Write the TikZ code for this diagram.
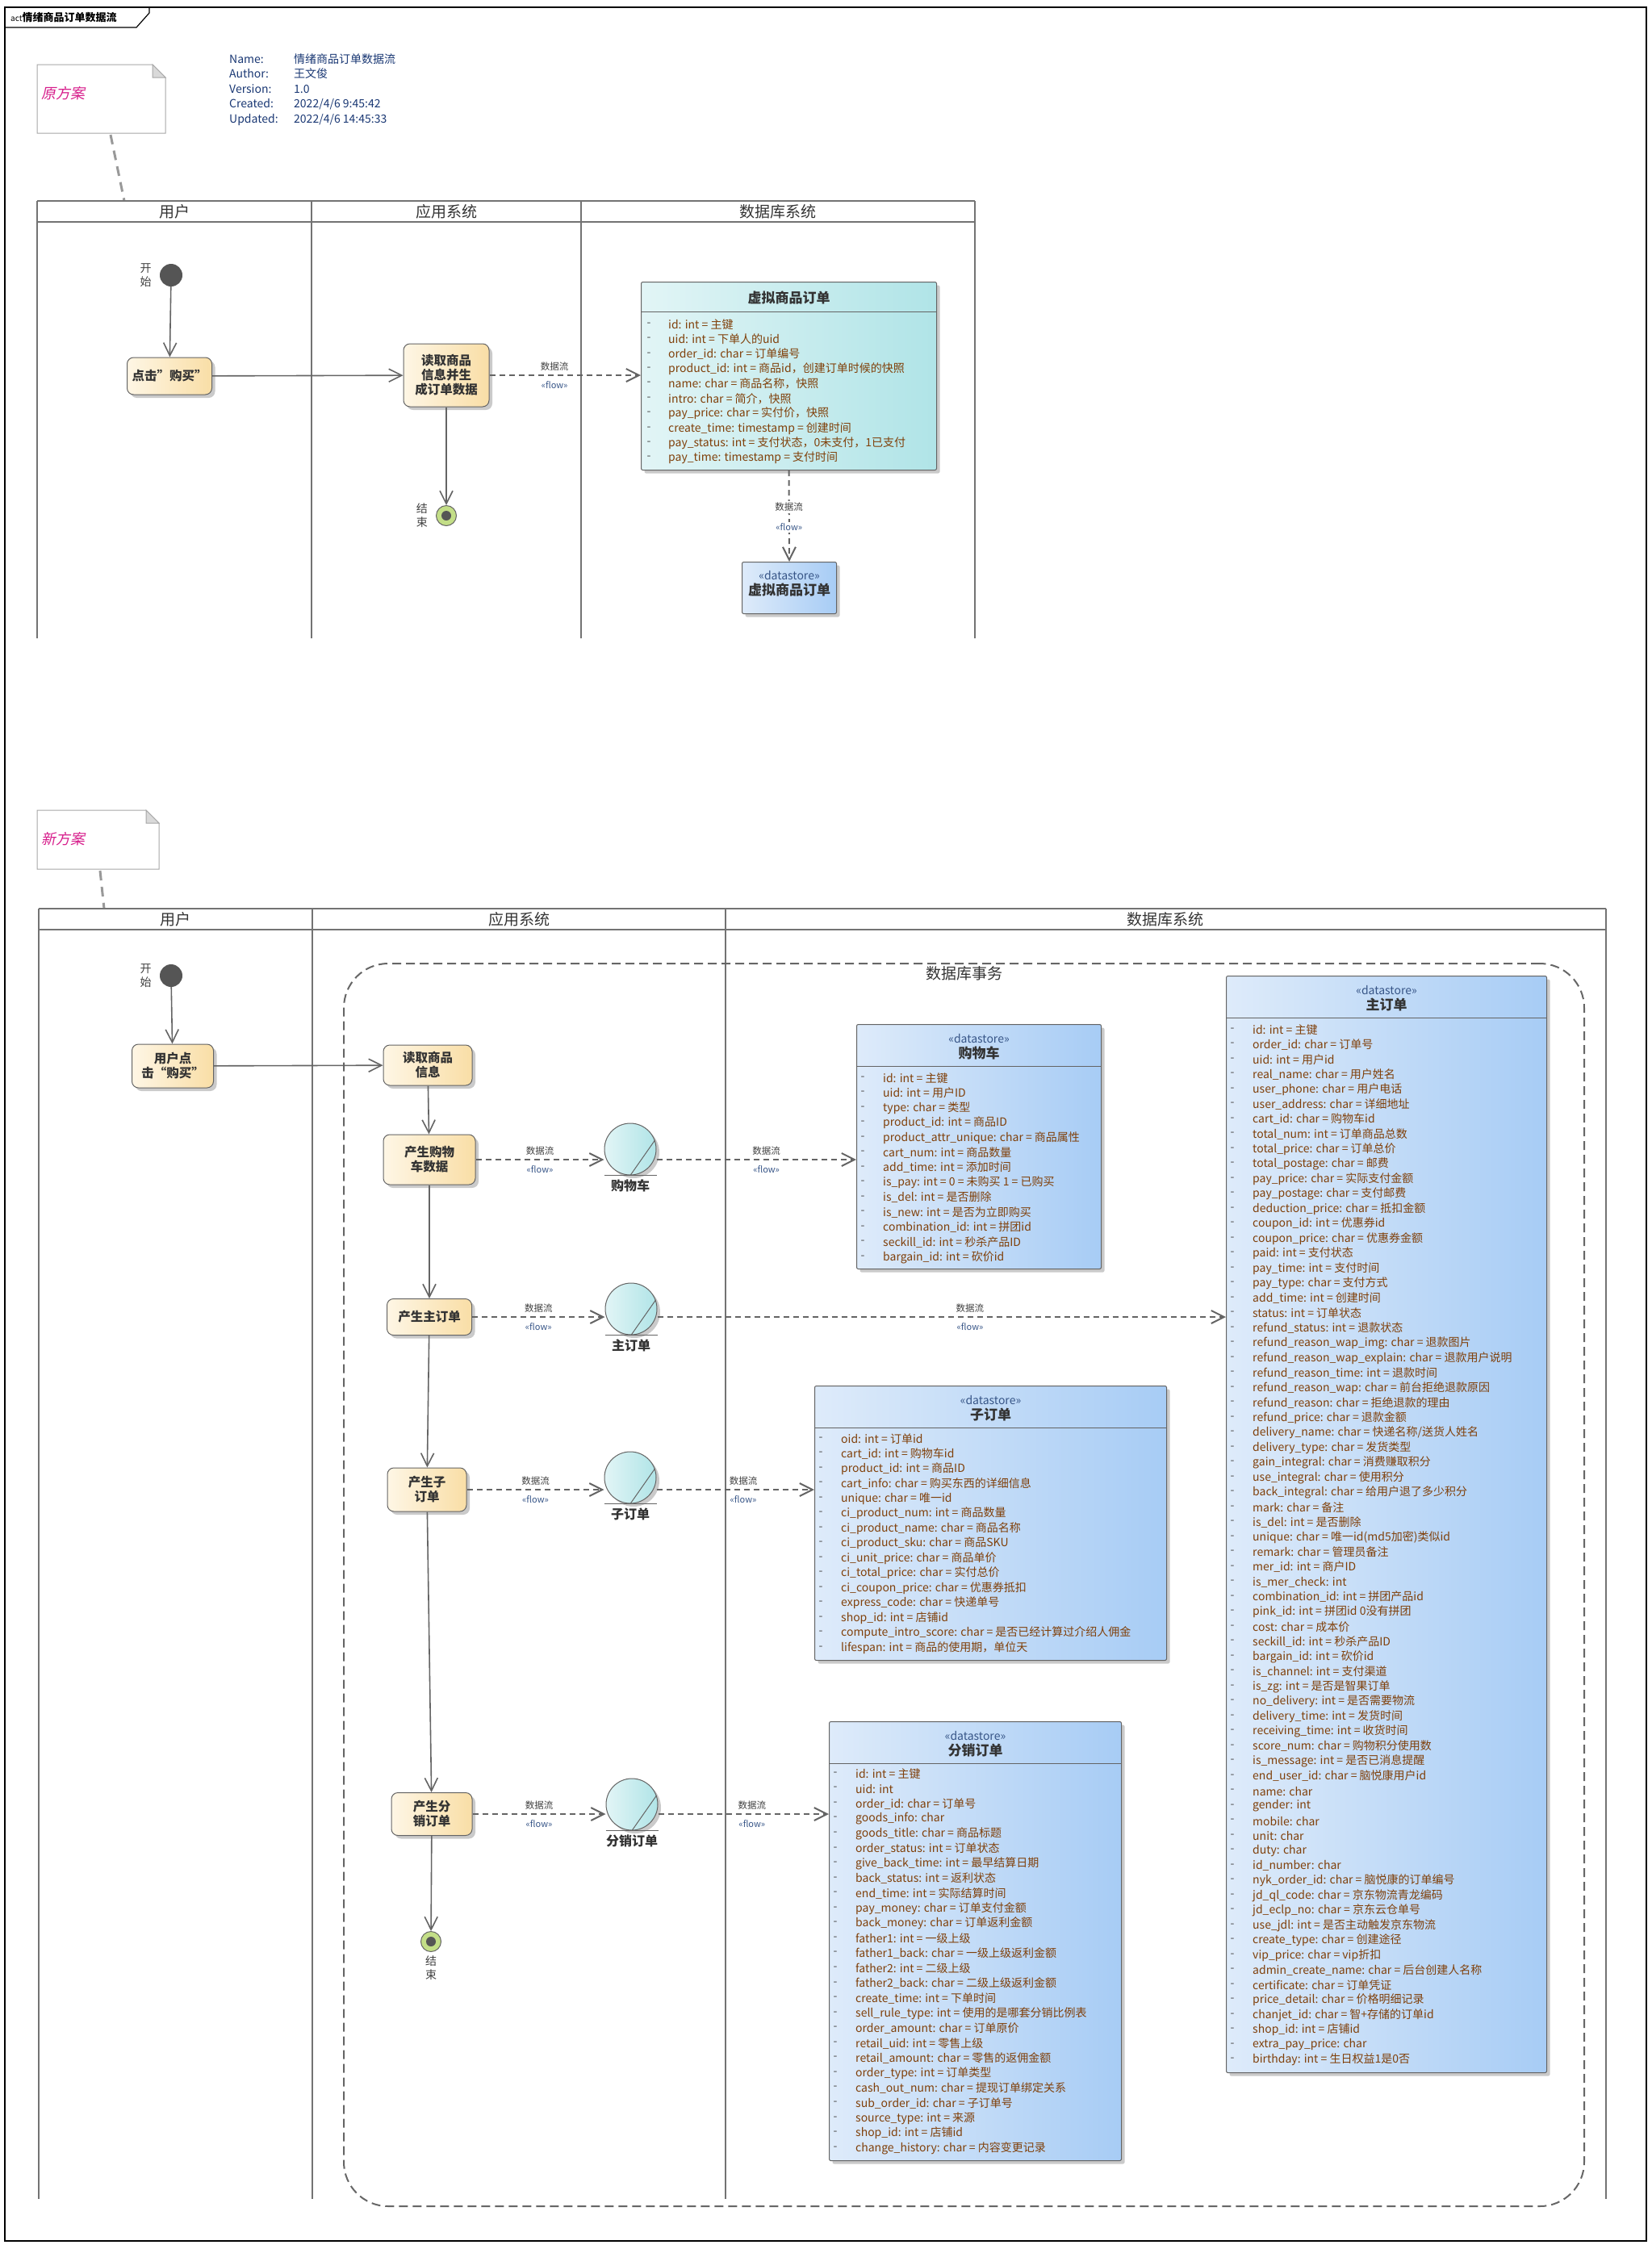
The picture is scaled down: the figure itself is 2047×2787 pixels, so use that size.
\documentclass[tikz,border=0pt]{standalone}
\usepackage{fontspec}
\setmainfont{Noto Sans CJK SC}
\newfontfamily\slantcjk[FakeSlant=0.2]{Noto Sans CJK SC}
\usetikzlibrary{arrows.meta,positioning,shadows}

\definecolor{linegray}{RGB}{100,100,100}
\definecolor{actleft}{RGB}{254,246,229}
\definecolor{actright}{RGB}{249,222,166}
\definecolor{cyanleft}{RGB}{226,245,246}
\definecolor{cyanright}{RGB}{176,228,231}
\definecolor{blueleft}{RGB}{222,235,250}
\definecolor{blueright}{RGB}{167,204,245}
\definecolor{attrbrown}{RGB}{128,64,10}
\definecolor{metablue}{RGB}{25,55,115}
\definecolor{stereoblue}{RGB}{55,85,135}
\definecolor{notepink}{RGB}{215,30,140}
\definecolor{endgreen}{RGB}{195,222,135}
\definecolor{dotgray}{RGB}{85,85,85}

\begin{document}
\begin{tikzpicture}[x=1pt, y=-1pt,
>={Straight Barb[length=16pt,width=16pt]},
ctrl/.style={->, draw=linegray, line width=1.6pt},
dflow/.style={->, draw=linegray, line width=2pt, dash pattern=on 7pt off 5pt},
lane/.style={draw=black!55, line width=1.5pt},
lanehdr/.style={inner sep=0, font=\fontsize{19}{22}\selectfont, text=black!80},
act/.style={rectangle, rounded corners=8pt, draw=linegray, line width=1pt, left color=actleft, right color=actright, align=center, inner sep=2pt, font=\fontsize{15.5}{18}\selectfont\bfseries, text=black!80, drop shadow={shadow xshift=4pt, shadow yshift=-4pt, fill=black!35, opacity=.6}},
startdot/.style={circle, fill=dotgray, minimum size=28pt, inner sep=0},
enddot/.style={circle, draw=linegray, line width=1pt, fill=endgreen, minimum size=25pt, inner sep=0, path picture={\fill[dotgray] (path picture bounding box.center) circle (6pt);}},
obj/.style={circle, draw=linegray, line width=1pt, left color=cyanleft, right color=cyanright, minimum size=64pt, inner sep=0, drop shadow={shadow xshift=4pt, shadow yshift=-4pt, fill=black!35, opacity=.6}},
objline/.style={draw=linegray, line width=1pt},
objlbl/.style={inner sep=0, font=\fontsize{16}{18}\selectfont\bfseries, text=black!80},
classbox/.style={rectangle, rounded corners=2pt, draw=linegray, line width=1pt, anchor=north west, inner sep=0, drop shadow={shadow xshift=4pt, shadow yshift=-4pt, fill=black!35, opacity=.6}},
classcyan/.style={classbox, left color=cyanleft, right color=cyanright},
classblue/.style={classbox, left color=blueleft, right color=blueright},
boxsep/.style={draw=linegray, line width=1pt},
attr/.style={anchor=west, inner sep=0, font=\fontsize{14}{16}\selectfont, text=attrbrown},
attrdash/.style={inner sep=0, font=\fontsize{14}{16}\selectfont, text=black!70},
boxtitle/.style={inner sep=0, font=\fontsize{17}{19}\selectfont\bfseries, text=black!80},
boxstereo/.style={inner sep=0, font=\fontsize{14}{16}\selectfont, text=stereoblue},
flowlbl/.style={inner sep=0, font=\fontsize{11.5}{13}\selectfont, text=black!75},
flowst/.style={inner sep=0, font=\fontsize{11}{12}\selectfont, text=stereoblue},
lbl/.style={inner sep=0, align=center, font=\fontsize{14}{17}\selectfont, text=black!75},
note/.style={draw=black!35, line width=1pt, fill=white},
notefold/.style={draw=black!35, line width=1pt, fill=black!15},
notetxt/.style={anchor=west, inner sep=0, font=\fontsize{18}{20}\selectfont\slantcjk, text=notepink},
notelink/.style={draw=black!40, line width=3pt, dash pattern=on 12pt off 8pt},
txbox/.style={rectangle, draw=black!60, line width=2pt, dash pattern=on 11pt off 6pt, rounded corners=55pt, anchor=north west, inner sep=0}
]
\useasboundingbox (0,0) rectangle (2047,2787);

%Frame
\draw[black, line width=1.5pt] (6,9) rectangle (2040,2777);
\draw[black, line width=1.2pt] (6,34) -- (169,34) -- (185,16) -- (185,9);
\node[anchor=west, inner sep=0, font=\fontsize{13}{15}\selectfont] (title) at (13,22) {{\fontsize{10}{12}\selectfont act}{\bfseries 情绪商品订单数据流}};
\node[anchor=north west, inner sep=0, text=metablue, font=\fontsize{14}{18.5}\selectfont] (meta) at (284,65)
  {\begin{tabular}{@{}p{80pt}@{}l@{}}
   Name: & 情绪商品订单数据流\\
   Author: & 王文俊\\
   Version: & 1.0\\
   Created: & 2022/4/6 9:45:42\\
   Updated: & 2022/4/6 14:45:33
   \end{tabular}};

%Notes
\draw[note] (46,80) -- (189,80) -- (205,96) -- (205,165) -- (46,165) -- cycle;
\draw[notefold] (189,80) -- (189,96) -- (205,96) -- cycle;
\node[notetxt] (note1) at (51,116) {原方案};
\coordinate (note1b) at (137,167);
\coordinate (lane1t) at (154,249);
\draw[notelink] (note1b) -- (lane1t);
\draw[note] (46,1004) -- (181,1004) -- (197,1020) -- (197,1077) -- (46,1077) -- cycle;
\draw[notefold] (181,1004) -- (181,1020) -- (197,1020) -- cycle;
\node[notetxt] (note2) at (51,1040) {新方案};
\coordinate (note2b) at (124,1079);
\coordinate (lane2t) at (129,1126);
\draw[notelink] (note2b) -- (lane2t);

%Lanes
\draw[lane] (46,249) -- (1208,249) (46,275) -- (1208,275);
\foreach \x in {46,386,720,1208} \draw[lane] (\x,249) -- (\x,791);
\node[lanehdr] (u1) at (216,262) {用户};
\node[lanehdr] (a1) at (553,262) {应用系统};
\node[lanehdr] (d1) at (964,262) {数据库系统};
\draw[lane] (48,1126) -- (1990,1126) (48,1152) -- (1990,1152);
\foreach \x in {48,387,1990} \draw[lane] (\x,1126) -- (\x,2725);
\draw[lane, line width=2.5pt] (899,1126) -- (899,2725);
\node[lanehdr] (u2) at (217,1139) {用户};
\node[lanehdr] (a2) at (643,1139) {应用系统};
\node[lanehdr] (d2) at (1444,1139) {数据库系统};

%Nodes (old)
\node[startdot] (start1) at (212,341) {};
\node[lbl, left=10pt of start1] (start1lbl) {开\\始};
\node[act, minimum width=105pt, minimum height=46pt] (buy1) at (210,466) {点击"购买"};
\node[act, minimum width=106pt, minimum height=78pt] (read1) at (553,465) {读取商品\\信息并生\\成订单数据};
\node[enddot] (end1) at (553,639) {};
\node[lbl, left=10pt of end1] (end1lbl) {结\\束};
\node[classcyan, minimum width=366pt, minimum height=233pt] (vorder) at (794,349) {};
\draw[boxsep] ([yshift=-37pt]vorder.north west) -- ([yshift=-37pt]vorder.north east);
\node[boxtitle] (vorder-t) at ([yshift=-20pt]vorder.north) {虚拟商品订单};
\foreach \t [count=\i] in {id: int = 主键, uid: int = 下单人的uid, order\_id: char = 订单编号,
  product\_id: int = 商品id，创建订单时候的快照, name: char = 商品名称，快照, intro: char = 简介，快照,
  pay\_price: char = 实付价，快照, create\_time: timestamp = 创建时间,
  pay\_status: int = 支付状态，0未支付，1已支付, pay\_time: timestamp = 支付时间}{
  \pgfmathsetmacro\y{-53-(\i-1)*18.4}
  \node[attrdash] (vorder-d\i) at ([xshift=10pt, yshift=\y pt]vorder.north west) {-};
  \node[attr] (vorder-a\i) at ([xshift=34pt, yshift=\y pt]vorder.north west) {\t};
}
\node[classblue, minimum width=117pt, minimum height=64pt] (vstore) at (919,696) {};
\node[boxstereo] (vstore-s) at ([yshift=-17pt]vstore.north) {«datastore»};
\node[boxtitle] (vstore-t) at ([yshift=-35pt]vstore.north) {虚拟商品订单};

%Lines (old)
\draw[ctrl] (start1) -- (buy1);
\draw[ctrl] (buy1) -- (read1);
\draw[ctrl] (read1) -- (end1);
\draw[dflow] (read1.east) -- (read1.east -| vorder.west)
  node[flowlbl, pos=.43, above=5pt] (f1t) {数据流}
  node[flowst, pos=.43, below=7pt] (f1s) {«flow»};
\draw[dflow] (vorder.south) -- (vstore.north)
  node[flowlbl, pos=.4, fill=white, inner sep=2pt] (f2t) {数据流}
  node[flowst, pos=.62, fill=white, inner sep=2pt] (f2s) {«flow»};

%Nodes (new)
\node[txbox, minimum width=1537pt, minimum height=1540pt] (tx) at (425,1193) {};
\node[lanehdr] (txlbl) at ([yshift=-13pt]tx.north) {数据库事务};
\node[startdot] (start2) at (212,1209) {};
\node[lbl, left=10pt of start2] (start2lbl) {开\\始};
\node[act, minimum width=101pt, minimum height=54pt] (buy2) at (214,1321) {用户点\\击“购买”};
\node[act, minimum width=110pt, minimum height=50pt] (read2) at (530,1320) {读取商品\\信息};
\node[act, minimum width=114pt, minimum height=62pt] (cartact) at (532,1437) {产生购物\\车数据};
\node[act, minimum width=105pt, minimum height=45pt] (mainact) at (532,1632) {产生主订单};
\node[act, minimum width=98pt, minimum height=54pt] (subact) at (529,1846) {产生子\\订单};
\node[act, minimum width=100pt, minimum height=53pt] (distact) at (535,2248) {产生分\\销订单};
\node[enddot] (end2) at (534,2406) {};
\node[lbl, below=4pt of end2] (end2lbl) {结\\束};
\node[obj] (cartobj) at (781,1424) {};
\node[obj] (mainobj) at (782,1622) {};
\node[obj] (subobj) at (781,1831) {};
\node[obj] (distobj) at (783,2236) {};
\foreach \o/\n in {cartobj/购物车, mainobj/主订单, subobj/子订单, distobj/分销订单}{
  \draw[objline] (\o.-90) -- (\o.20);
  \draw[objline] (\o.west |- \o.south) -- (\o.east |- \o.south);
  \node[objlbl, below=5pt of \o] (\o-lbl) {\n};
}

\node[classblue, minimum width=303pt, minimum height=303pt] (cart) at (1061,1269) {};
\node[classblue, minimum width=397pt, minimum height=1359pt] (mainord) at (1519,1209) {};
\node[classblue, minimum width=436pt, minimum height=340pt] (subord) at (1009,1717) {};
\node[classblue, minimum width=362pt, minimum height=544pt] (distord) at (1027,2133) {};
\foreach \b/\n in {cart/购物车, mainord/主订单, subord/子订单, distord/分销订单}{
  \draw[boxsep] ([yshift=-52pt]\b.north west) -- ([yshift=-52pt]\b.north east);
  \node[boxstereo] (\b-s) at ([yshift=-18pt]\b.north) {«datastore»};
  \node[boxtitle] (\b-t) at ([yshift=-36pt]\b.north) {\n};
}

%Attributes
\foreach \t [count=\i] in {id: int = 主键, uid: int = 用户ID, type: char = 类型, product\_id: int = 商品ID,
  product\_attr\_unique: char = 商品属性, cart\_num: int = 商品数量, add\_time: int = 添加时间,
  is\_pay: int = 0 = 未购买 1 = 已购买, is\_del: int = 是否删除, is\_new: int = 是否为立即购买,
  combination\_id: int = 拼团id, seckill\_id: int = 秒杀产品ID, bargain\_id: int = 砍价id}{
  \pgfmathsetmacro\y{-67-(\i-1)*18.5}
  \node[attrdash] (cart-d\i) at ([xshift=8pt, yshift=\y pt]cart.north west) {-};
  \node[attr] (cart-a\i) at ([xshift=33pt, yshift=\y pt]cart.north west) {\t};
}
\foreach \t [count=\i] in {id: int = 主键, order\_id: char = 订单号, uid: int = 用户id, real\_name: char = 用户姓名,
  user\_phone: char = 用户电话, user\_address: char = 详细地址, cart\_id: char = 购物车id,
  total\_num: int = 订单商品总数, total\_price: char = 订单总价, total\_postage: char = 邮费,
  pay\_price: char = 实际支付金额, pay\_postage: char = 支付邮费, deduction\_price: char = 抵扣金额,
  coupon\_id: int = 优惠券id, coupon\_price: char = 优惠券金额, paid: int = 支付状态,
  pay\_time: int = 支付时间, pay\_type: char = 支付方式, add\_time: int = 创建时间,
  status: int = 订单状态, refund\_status: int = 退款状态, refund\_reason\_wap\_img: char = 退款图片,
  refund\_reason\_wap\_explain: char = 退款用户说明, refund\_reason\_time: int = 退款时间,
  refund\_reason\_wap: char = 前台拒绝退款原因, refund\_reason: char = 拒绝退款的理由,
  refund\_price: char = 退款金额, delivery\_name: char = 快递名称/送货人姓名,
  delivery\_type: char = 发货类型, gain\_integral: char = 消费赚取积分, use\_integral: char = 使用积分,
  back\_integral: char = 给用户退了多少积分, mark: char = 备注, is\_del: int = 是否删除,
  unique: char = 唯一id(md5加密)类似id, remark: char = 管理员备注, mer\_id: int = 商户ID,
  is\_mer\_check: int, combination\_id: int = 拼团产品id, pink\_id: int = 拼团id 0没有拼团,
  cost: char = 成本价, seckill\_id: int = 秒杀产品ID, bargain\_id: int = 砍价id,
  is\_channel: int = 支付渠道, is\_zg: int = 是否是智果订单, no\_delivery: int = 是否需要物流,
  delivery\_time: int = 发货时间, receiving\_time: int = 收货时间, score\_num: char = 购物积分使用数,
  is\_message: int = 是否已消息提醒, end\_user\_id: char = 脑悦康用户id, name: char, gender: int,
  mobile: char, unit: char, duty: char, id\_number: char, nyk\_order\_id: char = 脑悦康的订单编号,
  jd\_ql\_code: char = 京东物流青龙编码, jd\_eclp\_no: char = 京东云仓单号,
  use\_jdl: int = 是否主动触发京东物流, create\_type: char = 创建途径, vip\_price: char = vip折扣,
  admin\_create\_name: char = 后台创建人名称, certificate: char = 订单凭证,
  price\_detail: char = 价格明细记录, chanjet\_id: char = 智+存储的订单id, shop\_id: int = 店铺id,
  extra\_pay\_price: char, birthday: int = 生日权益1是0否}{
  \pgfmathsetmacro\y{-67-(\i-1)*18.5}
  \node[attrdash] (mainord-d\i) at ([xshift=8pt, yshift=\y pt]mainord.north west) {-};
  \node[attr] (mainord-a\i) at ([xshift=33pt, yshift=\y pt]mainord.north west) {\t};
}
\foreach \t [count=\i] in {oid: int = 订单id, cart\_id: int = 购物车id, product\_id: int = 商品ID,
  cart\_info: char = 购买东西的详细信息, unique: char = 唯一id, ci\_product\_num: int = 商品数量,
  ci\_product\_name: char = 商品名称, ci\_product\_sku: char = 商品SKU, ci\_unit\_price: char = 商品单价,
  ci\_total\_price: char = 实付总价, ci\_coupon\_price: char = 优惠券抵扣, express\_code: char = 快递单号,
  shop\_id: int = 店铺id, compute\_intro\_score: char = 是否已经计算过介绍人佣金,
  lifespan: int = 商品的使用期，单位天}{
  \pgfmathsetmacro\y{-66-(\i-1)*18.5}
  \node[attrdash] (subord-d\i) at ([xshift=8pt, yshift=\y pt]subord.north west) {-};
  \node[attr] (subord-a\i) at ([xshift=33pt, yshift=\y pt]subord.north west) {\t};
}
\foreach \t [count=\i] in {id: int = 主键, uid: int, order\_id: char = 订单号, goods\_info: char,
  goods\_title: char = 商品标题, order\_status: int = 订单状态, give\_back\_time: int = 最早结算日期,
  back\_status: int = 返利状态, end\_time: int = 实际结算时间, pay\_money: char = 订单支付金额,
  back\_money: char = 订单返利金额, father1: int = 一级上级, father1\_back: char = 一级上级返利金额,
  father2: int = 二级上级, father2\_back: char = 二级上级返利金额, create\_time: int = 下单时间,
  sell\_rule\_type: int = 使用的是哪套分销比例表, order\_amount: char = 订单原价,
  retail\_uid: int = 零售上级, retail\_amount: char = 零售的返佣金额, order\_type: int = 订单类型,
  cash\_out\_num: char = 提现订单绑定关系, sub\_order\_id: char = 子订单号, source\_type: int = 来源,
  shop\_id: int = 店铺id, change\_history: char = 内容变更记录}{
  \pgfmathsetmacro\y{-65-(\i-1)*18.56}
  \node[attrdash] (distord-d\i) at ([xshift=8pt, yshift=\y pt]distord.north west) {-};
  \node[attr] (distord-a\i) at ([xshift=33pt, yshift=\y pt]distord.north west) {\t};
}

%Lines (new)
\draw[ctrl] (start2) -- (buy2);
\draw[ctrl] (buy2) -- (read2);
\draw[ctrl] (read2) -- (cartact);
\draw[ctrl] (cartact) -- (mainact);
\draw[ctrl] (mainact) -- (subact);
\draw[ctrl] (subact) -- (distact);
\draw[ctrl] (distact) -- (end2);
\foreach \a/\o/\b in {cartact/cartobj/cart, mainact/mainobj/mainord, subact/subobj/subord, distact/distobj/distord}{
  \draw[dflow] (\a.east) -- (\a.east -| \o.west)
    node[flowlbl, midway, above=5pt] (\a-t) {数据流}
    node[flowst, midway, below=7pt] (\a-s) {«flow»};
  \draw[dflow] (\o.east |- \a.east) -- (\a.east -| \b.west)
    node[flowlbl, pos=.55, above=5pt] (\o-t) {数据流}
    node[flowst, pos=.55, below=7pt] (\o-s) {«flow»};
}
\end{tikzpicture}
\end{document}
